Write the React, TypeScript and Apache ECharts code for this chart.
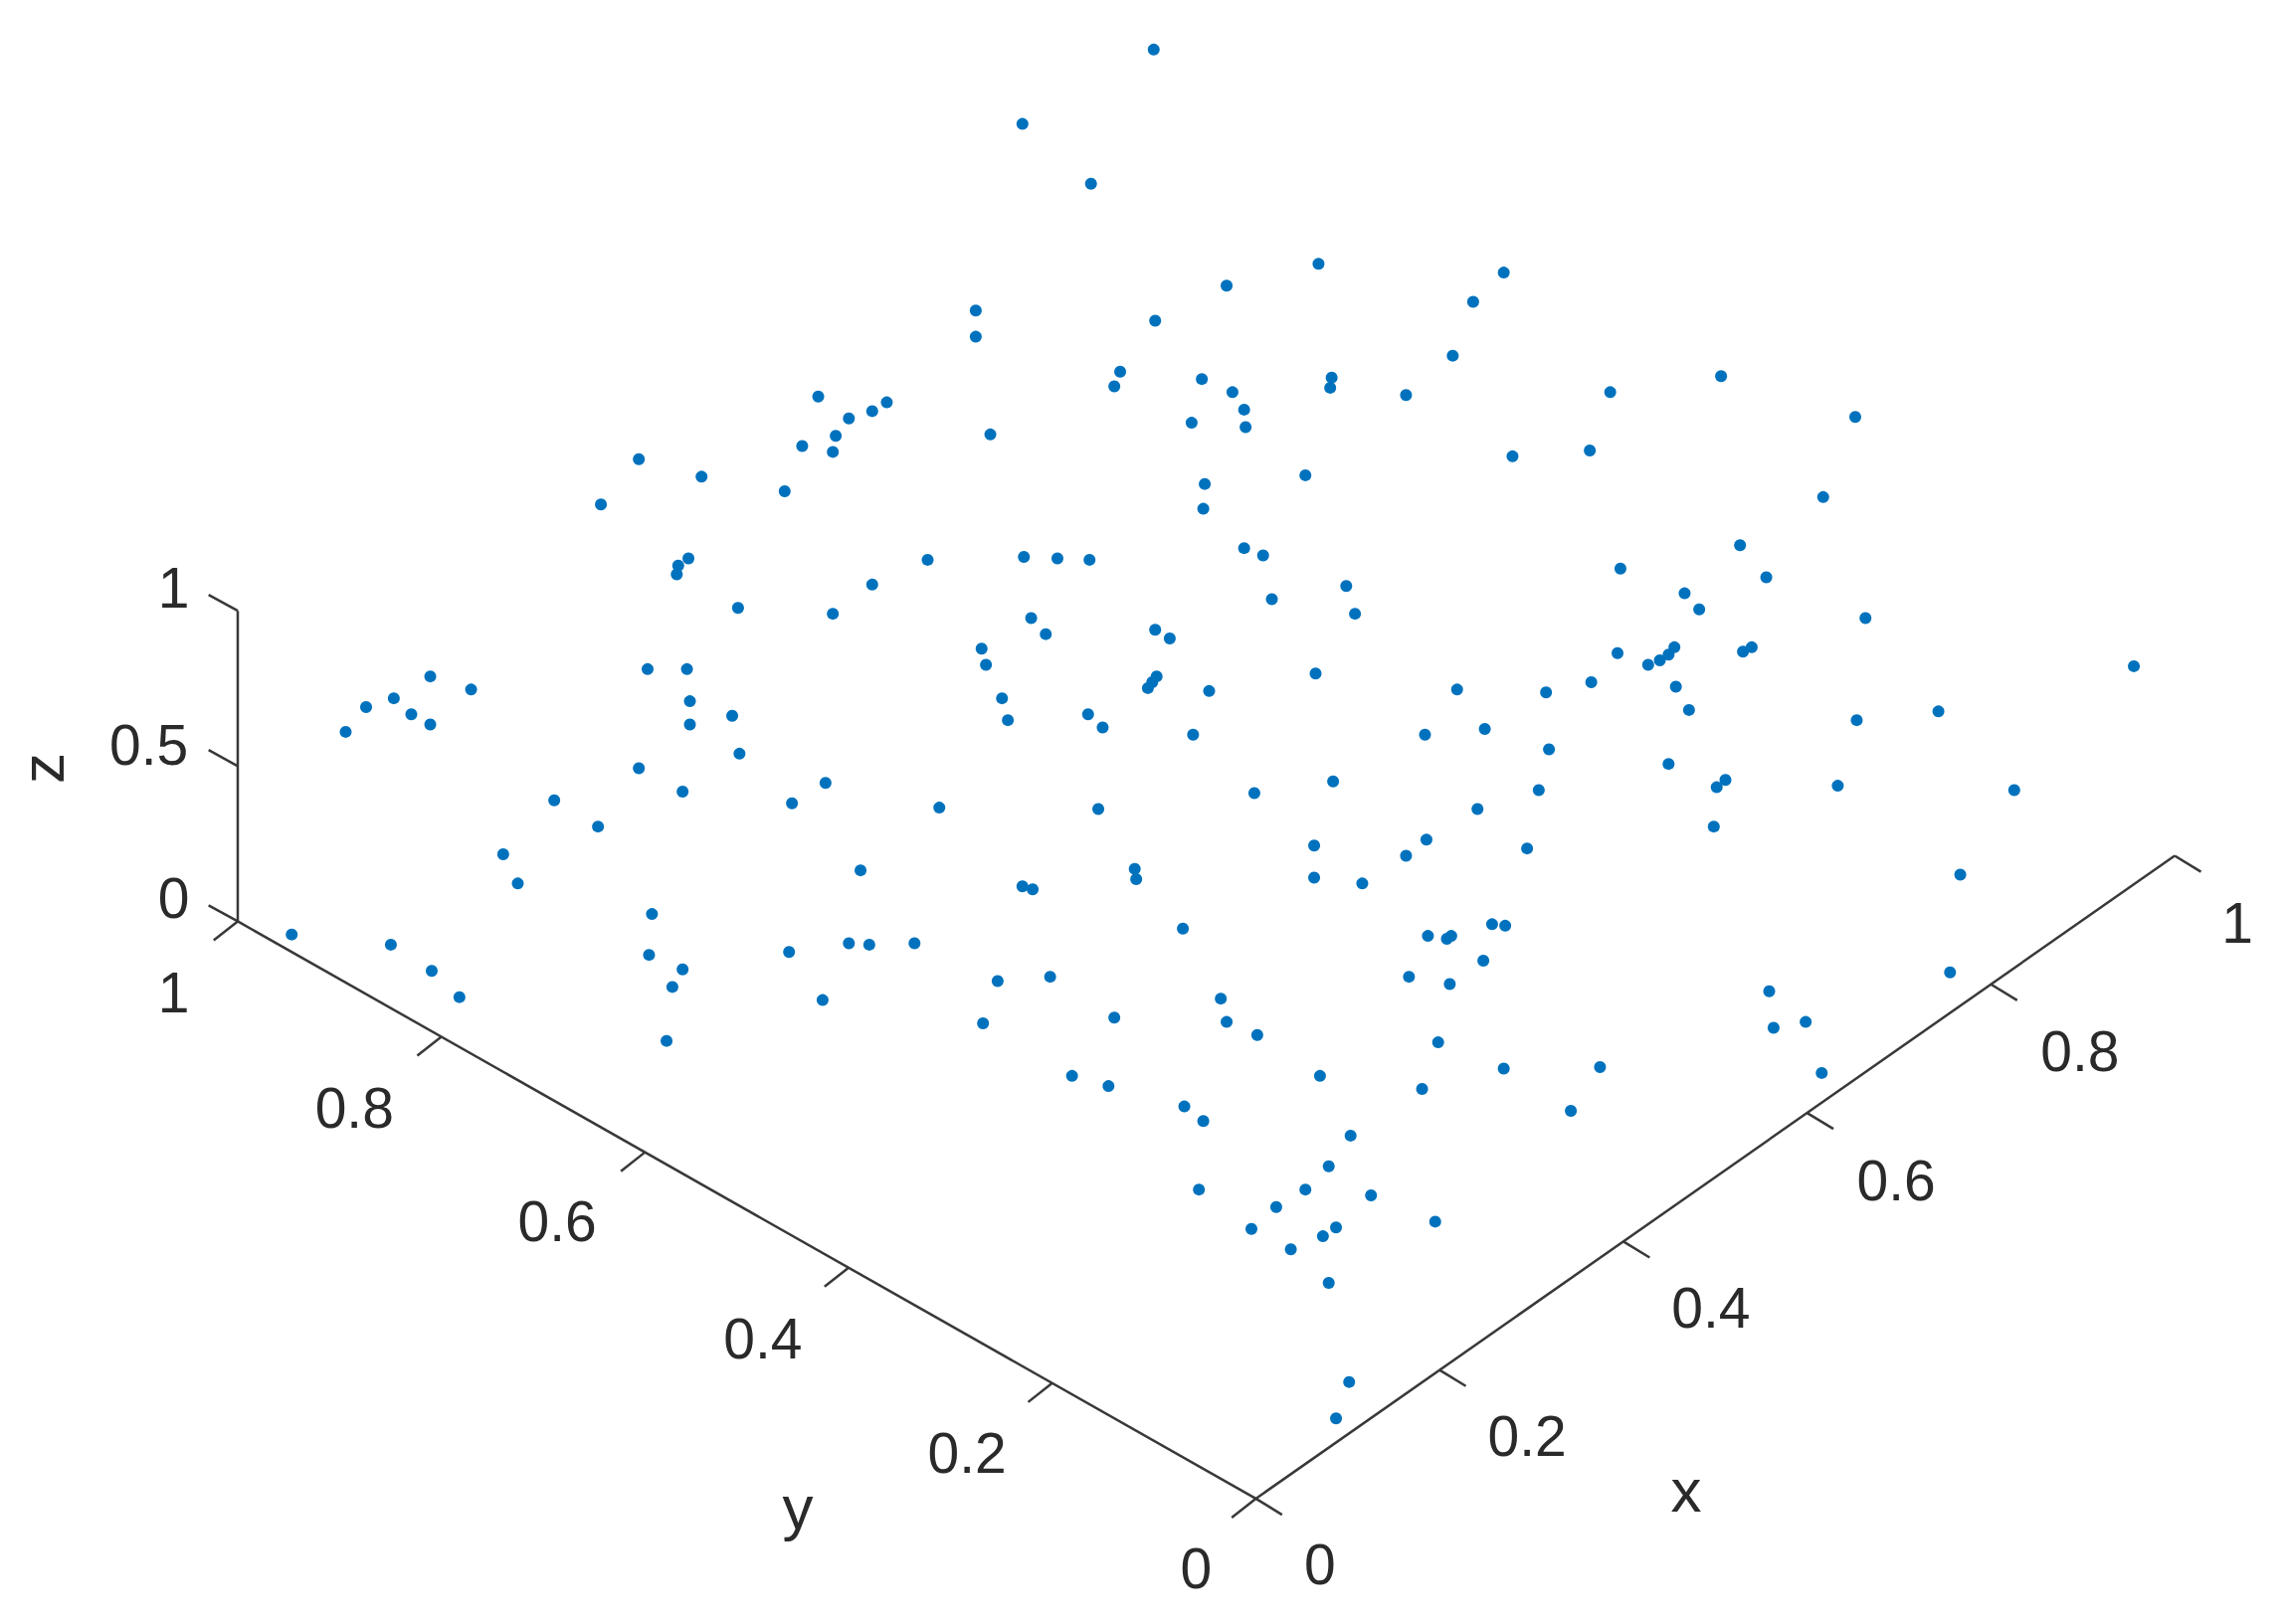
import React, { useEffect, useRef } from "react";
import * as echarts from "echarts";

const WIDTH = 2299;
const HEIGHT = 1633;
const IMG_W = 1568;
const IMG_H = 1114;

// Projected positions of the 3D scatter points.
const points: number[][] = [
  [791,34],[701,85],[748,126],[904,181],[841,196],[1031,187],[1010,207],[792,220],[669,213],[669,231],
  [996,244],[768,255],[764,265],[824,260],[913,259],[912,266],[845,269],[853,281],[854,293],[817,290],
  [964,271],[1104,269],[1180,258],[1272,286],[561,272],[608,276],[598,282],[582,287],[573,299],[571,310],
  [550,306],[679,298],[1090,309],[1037,313],[438,315],[481,327],[895,326],[826,332],[825,349],[538,337],
  [412,346],[1250,341],[853,376],[866,381],[636,384],[702,382],[725,383],[747,384],[472,383],[465,388],
  [464,394],[1193,374],[1111,390],[1211,396],[598,401],[923,402],[872,411],[1155,407],[1165,418],[506,417],
  [571,421],[929,421],[1279,424],[707,424],[717,435],[792,432],[802,438],[673,445],[676,456],[1109,448],
  [1148,444],[1144,449],[1138,453],[1130,456],[1201,444],[1195,447],[444,459],[471,459],[902,462],[1463,457],
  [793,464],[790,468],[787,472],[829,474],[999,473],[1091,468],[1060,475],[1149,471],[323,473],[295,464],
  [270,479],[251,485],[282,490],[295,497],[237,502],[687,479],[473,481],[691,494],[746,490],[756,499],
  [473,497],[502,491],[1158,487],[1273,494],[1329,488],[977,504],[1018,500],[818,504],[507,517],[1062,514],
  [438,527],[1144,524],[914,536],[566,537],[468,543],[860,544],[1055,542],[1183,535],[1177,540],[1260,539],
  [1381,542],[380,549],[543,551],[644,554],[753,555],[1013,555],[410,567],[1175,567],[901,580],[978,576],
  [964,587],[1047,582],[345,586],[590,597],[778,596],[779,603],[901,602],[934,606],[1344,600],[355,606],
  [701,608],[708,610],[447,627],[811,637],[1023,634],[1032,635],[979,642],[992,644],[995,642],[541,653],
  [582,647],[596,648],[627,647],[200,641],[268,648],[445,655],[1017,659],[296,666],[468,665],[720,670],
  [684,673],[966,670],[994,675],[1337,667],[461,677],[315,684],[564,686],[837,685],[1213,680],[841,701],
  [764,698],[674,702],[1216,705],[1238,701],[862,710],[986,715],[457,714],[735,738],[905,738],[760,745],
  [1031,733],[1097,732],[1249,736],[975,747],[812,759],[1077,762],[825,769],[926,779],[911,800],[822,816],
  [895,816],[940,820],[875,828],[984,838],[858,843],[916,842],[907,848],[885,857],[911,880],[925,948],[916,973],
];

const xTicks = [0, 0.2, 0.4, 0.6, 0.8, 1];
const yTicks = [0, 0.2, 0.4, 0.6, 0.8, 1];
const zTicks = [0, 0.5, 1];

const xTickLabels = ["0", "0.2", "0.4", "0.6", "0.8", "1"];
const yTickLabels = ["0", "0.2", "0.4", "0.6", "0.8", "1"];
const zTickLabels = ["0", "0.5", "1"];

// Label anchors on the page, in picture units.
const xLabelSpots = [[905,1073],[1047,985],[1173,897],[1300,810],[1426,721],[1534,633]];
const yLabelSpots = [[820,1076],[663,997],[523,918],[382,838],[243,760],[119,681]];
const zLabelSpots = [[119,616],[102,511],[119,403]];
const axisNames = [
  { text: "x", at: [1156, 1022], rotate: 0 },
  { text: "y", at: [547, 1034], rotate: 0 },
  { text: "z", at: [29, 527], rotate: 90 },
];

const origin = [861, 1028];
const xEnd = [1491, 587];
const yEnd = [163, 632];
const zTop = [163, 419];
const xStub = [18, 11];
const yStub = [-16.5, 13];
const zStub = [-20, -11];

const lerp = (a: number[], b: number[], t: number) => [a[0] + (b[0] - a[0]) * t, a[1] + (b[1] - a[1]) * t];
const plus = (a: number[], d: number[]) => [a[0] + d[0], a[1] + d[1]];

const segments: number[][][] = [
  [yEnd, zTop],
  [origin, xEnd],
  [origin, yEnd],
  ...xTicks.map((t) => { const p = lerp(origin, xEnd, t); return [p, plus(p, xStub)]; }),
  ...yTicks.map((t) => { const p = lerp(origin, yEnd, t); return [p, plus(p, yStub)]; }),
  ...zTicks.map((t) => { const p = lerp(yEnd, zTop, t); return [p, plus(p, zStub)]; }),
];

const textSeries = (text: string, at: number[], size: number, rotate = 0) => ({
  type: "scatter",
  silent: true,
  symbolSize: 1,
  itemStyle: { color: "transparent", opacity: 1 },
  data: [at],
  z: 5,
  label: {
    show: true,
    position: "inside",
    formatter: text,
    fontFamily: "Liberation Sans",
    fontSize: size,
    color: "#2a2a2a",
    opacity: 1,
    align: "center",
    verticalAlign: "middle",
    rotate,
  },
});

export default function App() {
  const ref = useRef<HTMLDivElement>(null);
  useEffect(() => {
    document.body.style.margin = "0";
    const chart = echarts.init(ref.current!, undefined, { renderer: "svg" });
    chart.setOption({
      animation: false,
      backgroundColor: "#ffffff",
      grid: { left: 0, right: 0, top: 0, bottom: 0 },
      xAxis: { type: "value", min: 0, max: IMG_W, show: false },
      yAxis: { type: "value", min: 0, max: IMG_H, inverse: true, show: false },
      series: [
        ...segments.map((seg) => ({
          type: "line",
          silent: true,
          symbol: "none",
          data: seg,
          lineStyle: { color: "#383838", width: 2.5 },
          z: 1,
        })),
        {
          type: "scatter",
          name: "points",
          symbol: "circle",
          symbolSize: 12,
          data: points,
          itemStyle: { color: "#0072BD", opacity: 1 },
          z: 3,
        },
        ...xTickLabels.map((s, i) => textSeries(s, xLabelSpots[i], 57)),
        ...yTickLabels.map((s, i) => textSeries(s, yLabelSpots[i], 57)),
        ...zTickLabels.map((s, i) => textSeries(s, zLabelSpots[i], 57)),
        ...axisNames.map((n) => textSeries(n.text, n.at, 62, n.rotate)),
      ],
    });
    return () => chart.dispose();
  }, []);
  return <div ref={ref} style={{ width: WIDTH, height: HEIGHT }} />;
}
